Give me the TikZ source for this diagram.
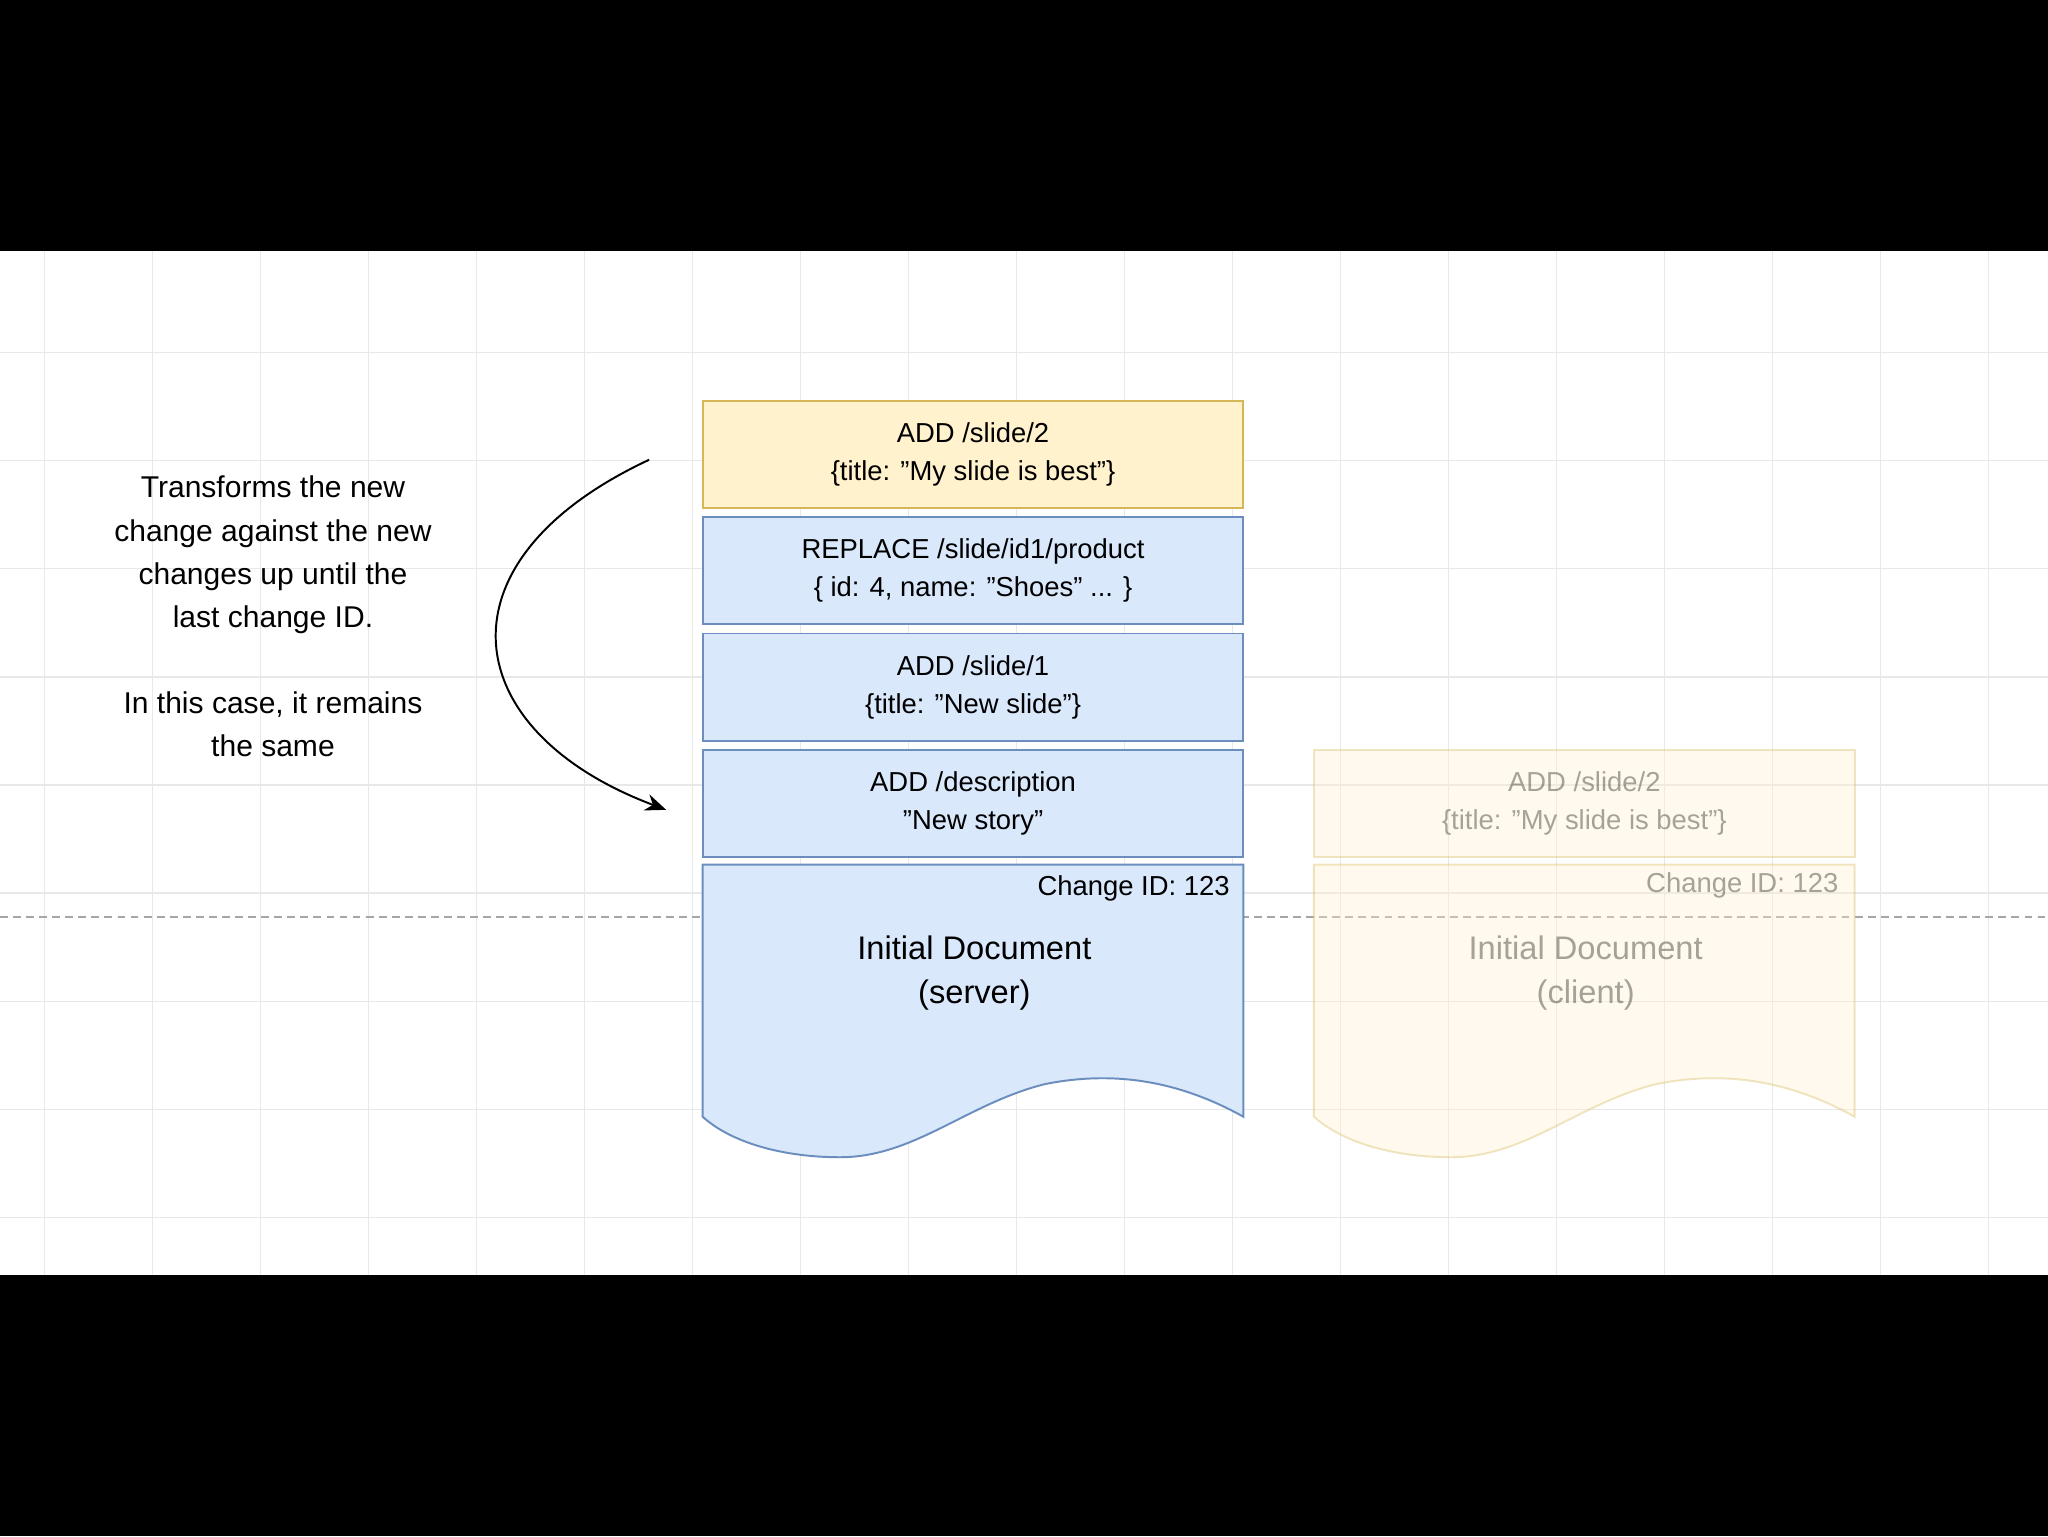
\documentclass[tikz,border=0pt]{standalone}
\usepackage{fontspec}
\setmainfont{Liberation Sans}
\usetikzlibrary{arrows.meta}
\definecolor{yfill}{HTML}{FFF2CC}\definecolor{ydraw}{HTML}{D6B656}
\definecolor{bfill}{HTML}{DAE8FC}\definecolor{bdraw}{HTML}{6C8EBF}
\begin{document}
\begin{tikzpicture}[x=1pt,y=-1pt,
  op/.style={draw=#1draw,fill=#1fill,line width=1.5pt,minimum width=414pt,minimum height=82pt,inner sep=0pt,align=center,font=\fontsize{21}{29}\selectfont},
  txt/.style={align=center,font=\fontsize{23}{33}\selectfont}]
\useasboundingbox (0,0) rectangle (1568,1176);
\fill[black] (0,0) rectangle (1568,1176);
\fill[white] (0,192) rectangle (1568,976);
\begin{scope}
\clip (0,192) rectangle (1568,976);
\foreach \x in {0,...,19}{\draw[black!9,line width=0.8pt] (34+82.7*\x,192) -- (34+82.7*\x,976);}
\foreach \y in {0,...,9}{\draw[black!9,line width=0.8pt] (0,187.5+82.7*\y) -- (1568,187.5+82.7*\y);}
\end{scope}
\draw[black!35,dashed,line width=1.2pt,dash pattern=on 6pt off 4pt] (0,702) -- (1568,702);
% server
\node[op=y] (a2) at (745,348) {ADD /slide/2\\\{title: "My slide is best"\}};
\node[op=b] (rp) at (745,437) {REPLACE /slide/id1/product\\\{ id: 4, name: "Shoes" ... \}};
\node[op=b] (a1) at (745,526) {ADD /slide/1\\\{title: "New slide"\}};
\node[op=b] (ad) at (745,615) {ADD /description\\"New story"};
\draw[draw=bdraw,fill=bfill,line width=1.5pt] (538,662) -- (952,662) -- (952,855)
  .. controls (900,826) and (850,820) .. (800,830)
  .. controls (740,845) and (700,886) .. (643,886)
  .. controls (600,886) and (560,875) .. (538,855) -- cycle;
\node[anchor=east,font=\fontsize{21}{25}\selectfont] (cid) at (945,680) {Change ID: 123};
\node[txt,font=\fontsize{25}{34}\selectfont] (doc) at (746,745) {Initial Document\\(server)};
% client
\begin{scope}[opacity=0.35]
\node[op=y] (ca2) at (1213,615) {ADD /slide/2\\\{title: "My slide is best"\}};
\draw[draw=ydraw,fill=yfill,line width=1.5pt] (1006,662) -- (1420,662) -- (1420,855)
  .. controls (1368,826) and (1318,820) .. (1268,830)
  .. controls (1208,845) and (1168,886) .. (1111,886)
  .. controls (1068,886) and (1028,875) .. (1006,855) -- cycle;
\node[anchor=east,font=\fontsize{21}{25}\selectfont] (ccid) at (1411,678) {Change ID: 123};
\node[txt,font=\fontsize{25}{34}\selectfont] (cdoc) at (1214,745) {Initial Document\\(client)};
\end{scope}
% note
\node[txt] (note) at (209,472) {Transforms the new\\change against the new\\changes up until the\\last change ID.\\[33pt]In this case, it remains\\the same};
\coordinate (s) at (497,352);
\coordinate (e) at (510,620);
\draw[line width=1.5pt,-{Stealth[length=16pt,width=13pt]}] (s) .. controls (330,430) and (350,560) .. (e);
\end{tikzpicture}
\end{document}
